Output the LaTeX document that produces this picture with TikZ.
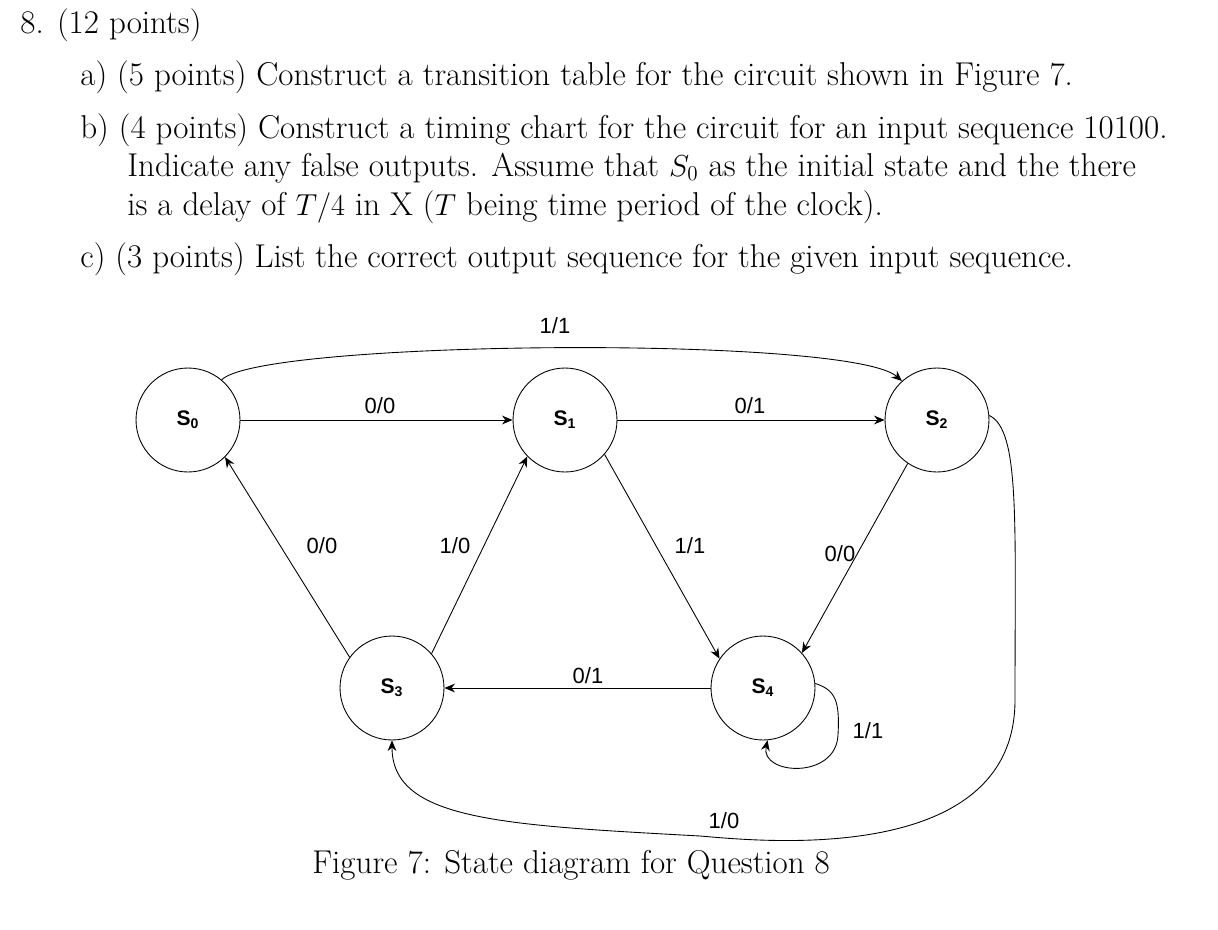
\documentclass[tikz,border=0pt]{standalone}
\usepackage{fontspec}
\newfontfamily\arialf{Liberation Sans}
\usetikzlibrary{arrows.meta}
\begin{document}
\begin{tikzpicture}[x=0.02cm,y=-0.02cm,
  st/.style={circle,draw,line width=0.5pt,minimum size=2.08cm,inner sep=0pt,font=\arialf\fontsize{12}{14}\selectfont\bfseries},
  ed/.style={draw,line width=0.5pt,-{Stealth[length=6pt,width=5pt]}},
  lb/.style={font=\arialf\fontsize{12.5}{14}\selectfont,inner sep=1pt},
  tx/.style={anchor=base west,inner sep=0pt,font=\fontsize{18.8}{22}\selectfont}]
\useasboundingbox (0,0) rectangle (1218,930);
\node[tx] (h) at (20,33) {8. (12 points)};
\node[tx] (a) at (80,85) {a) (5 points) Construct a transition table for the circuit shown in Figure 7.};
\node[tx] (b1) at (80,138) {b) (4 points) Construct a timing chart for the circuit for an input sequence 10100.};
\node[tx] (b2) at (127,176) {Indicate any false outputs. Assume that $S_0$ as the initial state and the there};
\node[tx] (b3) at (127,215) {is a delay of $T/4$ in X ($T$ being time period of the clock).};
\node[tx] (c) at (80,267) {c) (3 points) List the correct output sequence for the given input sequence.};
\node[tx] (cap) at (312,873) {Figure 7: State diagram for Question 8};

\node[st] (s0) at (188,420) {S\textsubscript{0}};
\node[st] (s1) at (565,420) {S\textsubscript{1}};
\node[st] (s2) at (937,420) {S\textsubscript{2}};
\node[st] (s3) at (392,688) {S\textsubscript{3}};
\node[st] (s4) at (763,688) {S\textsubscript{4}};

\draw[ed] (s0) -- (s1);
\node[lb] (l01) at (380,406) {0/0};
\draw[ed] (s1) -- (s2);
\node[lb] (l12) at (750,406) {0/1};
\draw[ed] (s4) -- (s3);
\node[lb] (l43) at (588,676) {0/1};
\draw[ed] (s3.144) -- (s0.315);
\node[lb] (l30) at (322,546) {0/0};
\draw[ed] (s3.41) -- (s1.224);
\node[lb] (l31) at (455,546) {1/0};
\draw[ed] (s1.319) -- (s4.146);
\node[lb] (l14) at (690,546) {1/1};
\draw[ed] (s2.236) -- (s4.42);
\node[lb] (l24) at (840,554) {0/0};
\draw[ed] (s0.50) .. controls (260,340) and (850,335) .. (s2.132);
\node[lb] (l02) at (555,326) {1/1};
\draw[ed] (s4.5) .. controls (835,690) and (840,700) .. (838,735) .. controls (836,780) and (760,775) .. (s4.275);
\node[lb] (l44) at (868,731) {1/1};
\draw[ed] (s2.5) .. controls (1020,430) and (1015,520) .. (1015,700) .. controls (1015,870) and (750,840) .. (700,836) .. controls (500,825) and (392,820) .. (s3.270);
\node[lb] (l23) at (724,821) {1/0};
\end{tikzpicture}
\end{document}
